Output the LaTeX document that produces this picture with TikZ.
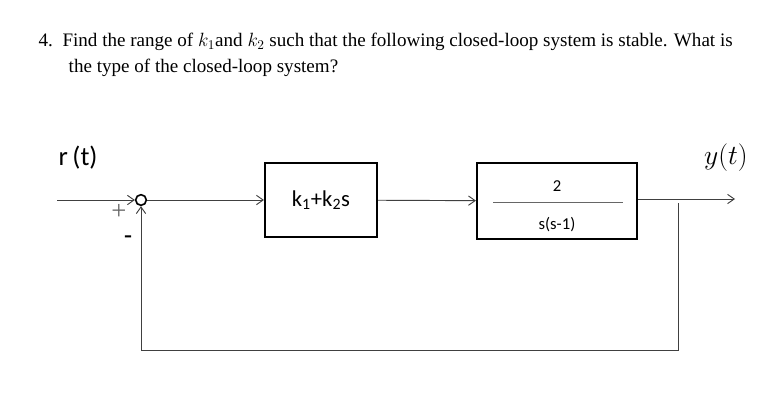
\documentclass[tikz,border=0pt]{standalone}
\usepackage{fontspec}
\setmainfont{Liberation Serif}
\newfontfamily\blockfont{Carlito}
\usetikzlibrary{arrows.meta,positioning}

\begin{document}
\begin{tikzpicture}[x=0.75pt,y=-0.75pt,
    >={Straight Barb[length=5pt,width=7pt]},
    block/.style={draw, line width=1.6pt, minimum width=84pt, minimum height=56pt, font=\blockfont\fontsize{17}{17}\selectfont},
    sig/.style={draw=black!75, line width=0.7pt},
    lbl/.style={font=\blockfont\fontsize{20}{20}\selectfont}]
  \useasboundingbox (0,0) rectangle (778,408);
  % Question text
  \node[anchor=west, font=\fontsize{14.3}{14.3}\selectfont] (q1) at (34,42)
    {4.\ \ Find the range of $k_1$and $k_2$ such that the following closed-loop system is stable. What is};
  \node[anchor=west, font=\fontsize{14.3}{14.3}\selectfont] (q2) at (64,68)
    {the type of the closed-loop system?};

  % Define nodes
  \coordinate (in) at (57,200);
  \node[draw, circle, line width=1.2pt, inner sep=0pt, minimum size=8pt] (sum) at (141,200) {};
  \node[block] (C) at (321,200) {k\textsubscript{1}+k\textsubscript{2}s};
  \node[block, minimum width=120pt, minimum height=57pt] (G) at (557,201) {};
  \node[font=\blockfont\fontsize{12.5}{12.5}\selectfont] (num) at (557,186) {2};
  \node[font=\blockfont\fontsize{12.5}{12.5}\selectfont] (den) at (557,225) {s(s-1)};
  \coordinate (out) at (735,199);
  \coordinate (fb1) at (678,350);
  \coordinate (fb2) at (141,350);
  \node[lbl, anchor=west] (r) at (54,158) {r\,(t)};
  \node[font=\fontsize{21}{21}\selectfont] (y) at (726,158) {$y(t)$};
  \node[font=\fontsize{20}{20}\selectfont, text=black!60, inner sep=0pt] (plus) at (119,212) {+};
  \node[font=\fontsize{18}{18}\selectfont\bfseries, inner sep=0pt] (minus) at (128,239) {-};

  % Define edges
  \draw[sig, ->] (in) -- (sum);
  \draw[sig, ->] (sum) -- (C);
  \draw[sig, ->] (C) -- (G);
  \draw[sig, ->] (G.east |- out) -- (out);
  \draw[black!60, line width=0.6pt] (493,202) -- (623,202);
  \draw[sig, ->] (678,203) -- (fb1) -- (fb2) -- (sum);
\end{tikzpicture}
\end{document}
